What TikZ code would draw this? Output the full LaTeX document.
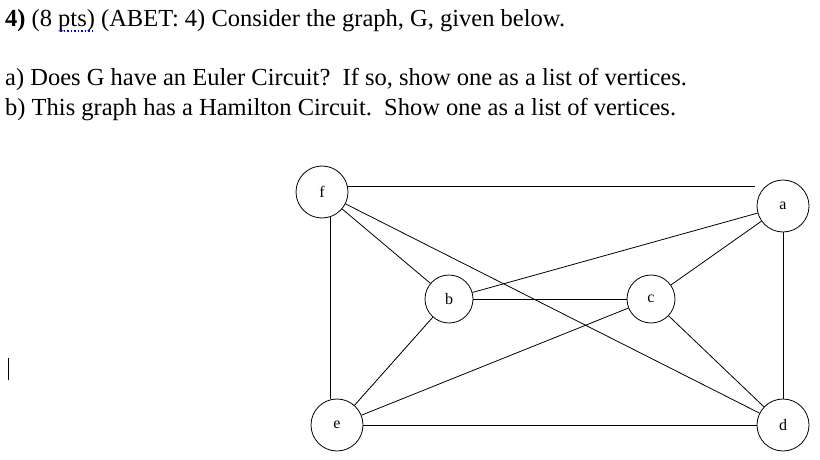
\documentclass[tikz,border=0pt]{standalone}
\usepackage{fontspec}
\setmainfont{Liberation Serif}
\usetikzlibrary{calc}
\tikzset{v/.style={circle,draw,thick,minimum size=52pt,inner sep=0pt,font=\fontsize{16}{18}\selectfont},
 e/.style={thick},
 txt/.style={anchor=base west,inner sep=0pt,font=\fontsize{24.5}{28}\selectfont}}
\begin{document}
\begin{tikzpicture}[x=1pt,y=-1pt]
\useasboundingbox (0,0) rectangle (820,460);
\node[txt] (t1) at (5,27) {\textbf{4)} (8 pts) (ABET: 4) Consider the graph, G, given below.};
\draw[blue,dotted,line width=1.5pt] (60,31) -- (92,31);
\node[txt] (t2) at (5,85) {a) Does G have an Euler Circuit?\ \ If so, show one as a list of vertices.};
\node[txt] (t3) at (5,115) {b) This graph has a Hamilton Circuit.\ \ Show one as a list of vertices.};
\draw[thick] (8,358) -- (8,380);
\node[v] (f) at (322,192) {f};
\node[v] (a) at (783,206) {a};
\node[v,minimum size=48pt] (b) at (449,299) {b};
\node[v,minimum size=48pt] (c) at (651,299) {c};
\node[v] (e) at (337,425) {e};
\node[v] (d) at (783,425) {d};
\coordinate (fa1) at ($(f.east)+(0,-6)$);
\coordinate (fa2) at (755,186);
\coordinate (fe1) at (330,217);
\coordinate (fe2) at (330,399);
\draw[e] (fa1) -- (fa2);
\draw[e] (f) -- (b);
\draw[e] (f) -- (d);
\draw[e] (e) -- (b);
\draw[e] (e) -- (c);
\draw[e] (e) -- (d);
\draw[e] (b) -- (a);
\draw[e] (b) -- (c);
\draw[e] (c) -- (a);
\draw[e] (c) -- (d);
\draw[e] (a) -- (d);
\draw[e] (fe1) -- (fe2);
\end{tikzpicture}
\end{document}
